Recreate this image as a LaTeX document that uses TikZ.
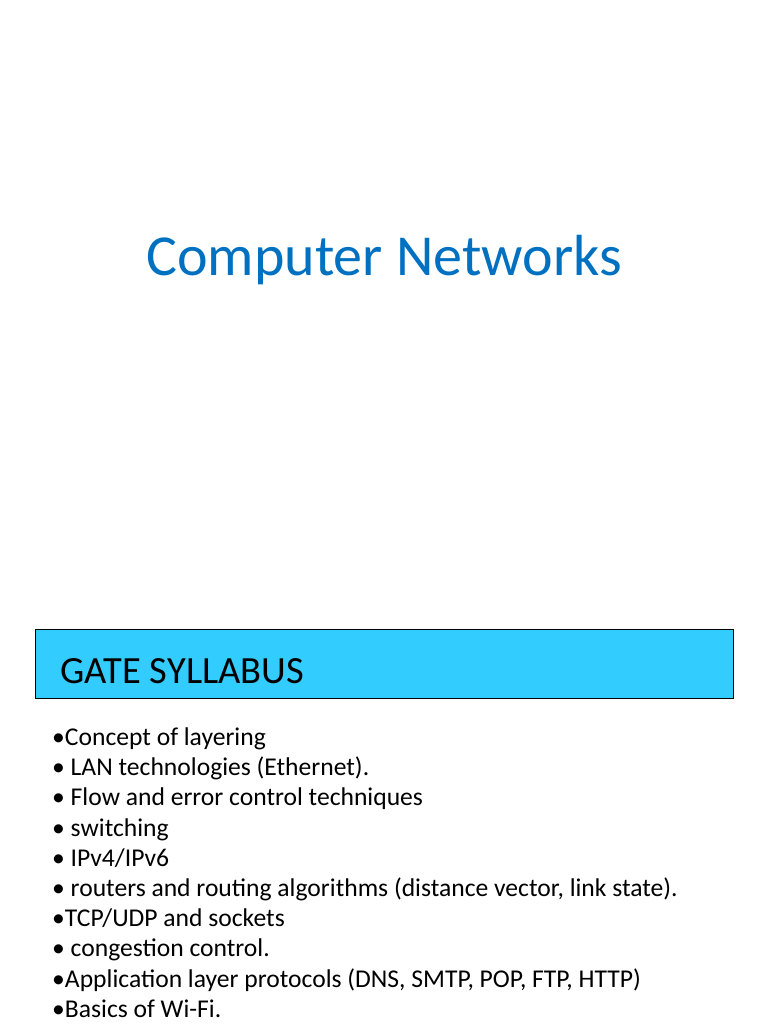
\documentclass[tikz,border=0pt]{standalone}
\usepackage{fontspec}
\setmainfont{Carlito}
\definecolor{titleblue}{HTML}{0070C0}
\definecolor{boxblue}{HTML}{33CCFF}
\begin{document}
\begin{tikzpicture}[x=1pt,y=-1pt,
  item/.style={anchor=base west,inner sep=0pt,font=\fontsize{25.6}{28}\selectfont}]
\useasboundingbox (0,0) rectangle (768,1024);
\node[font=\fontsize{58}{62}\selectfont,text=titleblue,anchor=base] (title) at (384,275) {Computer Networks};
\node[draw=black,line width=0.6pt,fill=boxblue,minimum width=698pt,minimum height=69pt,anchor=north west,inner sep=0pt] (box) at (35,629) {};
\node[anchor=base west,inner sep=0pt,font=\fontsize{38.5}{42}\selectfont] (gate) at (60,683) {GATE SYLLABUS};
\node[item] (i1) at (52,745) {•Concept of layering};
\node[item] (i2) at (52,775) {• LAN technologies (Ethernet).};
\node[item] (i3) at (52,805) {• Flow and error control techniques};
\node[item] (i4) at (52,836) {• switching};
\node[item] (i5) at (52,866) {• IPv4/IPv6};
\node[item] (i6) at (52,896) {• routers and routing algorithms (distance vector, link state).};
\node[item] (i7) at (52,926) {•TCP/UDP and sockets};
\node[item] (i8) at (52,956) {• congestion control.};
\node[item] (i9) at (52,987) {•Application layer protocols (DNS, SMTP, POP, FTP, HTTP)};
\node[item] (i10) at (52,1017) {•Basics of Wi-Fi.};
\end{tikzpicture}
\end{document}
